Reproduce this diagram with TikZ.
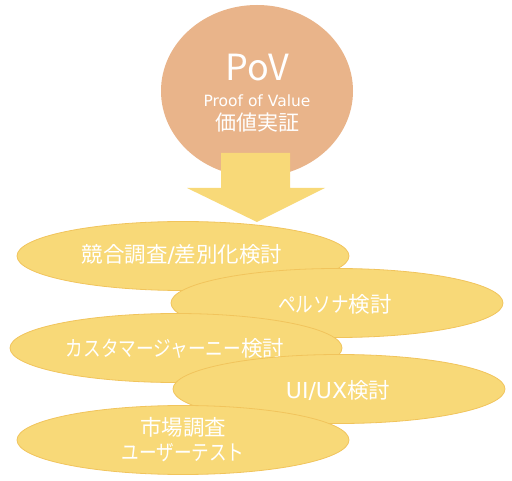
\documentclass[tikz,border=0pt]{standalone}
\usepackage{fontspec}
\setmainfont{Noto Sans CJK JP}
\newfontfamily\lat{DejaVu Sans}
\newfontfamily\kana{Noto Sans CJK JP}[FakeStretch=0.82]
\usetikzlibrary{shapes.geometric}
\definecolor{peach}{HTML}{E9B48A}
\definecolor{lightyel}{HTML}{F8D978}
\definecolor{yelline}{HTML}{F1C45C}
\tikzset{
  item/.style={ellipse, fill=lightyel, draw=yelline, line width=0.8pt,
    minimum width=332pt, minimum height=69pt, inner sep=0pt},
  itemtext/.style={text=white, font=\fontsize{21.5}{25}\selectfont, align=center, inner sep=0pt},
}
\begin{document}
\begin{tikzpicture}[x=1pt,y=-1pt]
\useasboundingbox (0,0) rectangle (512,481);
\fill[white] (0,0) rectangle (512,481);
% circle
\node[ellipse, fill=peach, minimum width=192pt, minimum height=172pt, inner sep=0pt] (pov) at (257,91) {};
\node[text=white, font=\fontsize{36}{40}\selectfont, inner sep=0pt] (povt) at (257,68) {PoV};
\node[text=white, font=\lat\fontsize{15.5}{18}\selectfont, inner sep=0pt] (povs) at (257,101) {Proof of Value};
\node[text=white, font=\fontsize{21}{24}\selectfont, inner sep=0pt] (povj) at (257,123) {価値実証};
% arrow
\fill[lightyel] (221,153) -- (290,153) -- (290,188) -- (325,188) -- (257,222) -- (187,188) -- (221,188) -- cycle;
% ellipses
\node[item] (e1) at (183,256) {};
\node[itemtext] (t1) at (182,254) {競合調査{\lat /}差別化検討};
\node[item] (e2) at (337,303) {};
\node[itemtext] (t2) at (335,304) {{\kana ペルソナ}検討};
\node[item] (e3) at (176,348) {};
\node[itemtext] (t3) at (175,348) {{\kana カスタマージャーニー}検討};
\node[item] (e4) at (339,389) {};
\node[itemtext] (t4) at (338,390) {{\lat\fontsize{22}{25}\selectfont UI/UX}検討};
\node[item] (e5) at (183,440) {};
\node[itemtext] (t5) at (183,440) {市場調査\\{\kana ユーザーテスト}};
\end{tikzpicture}
\end{document}
